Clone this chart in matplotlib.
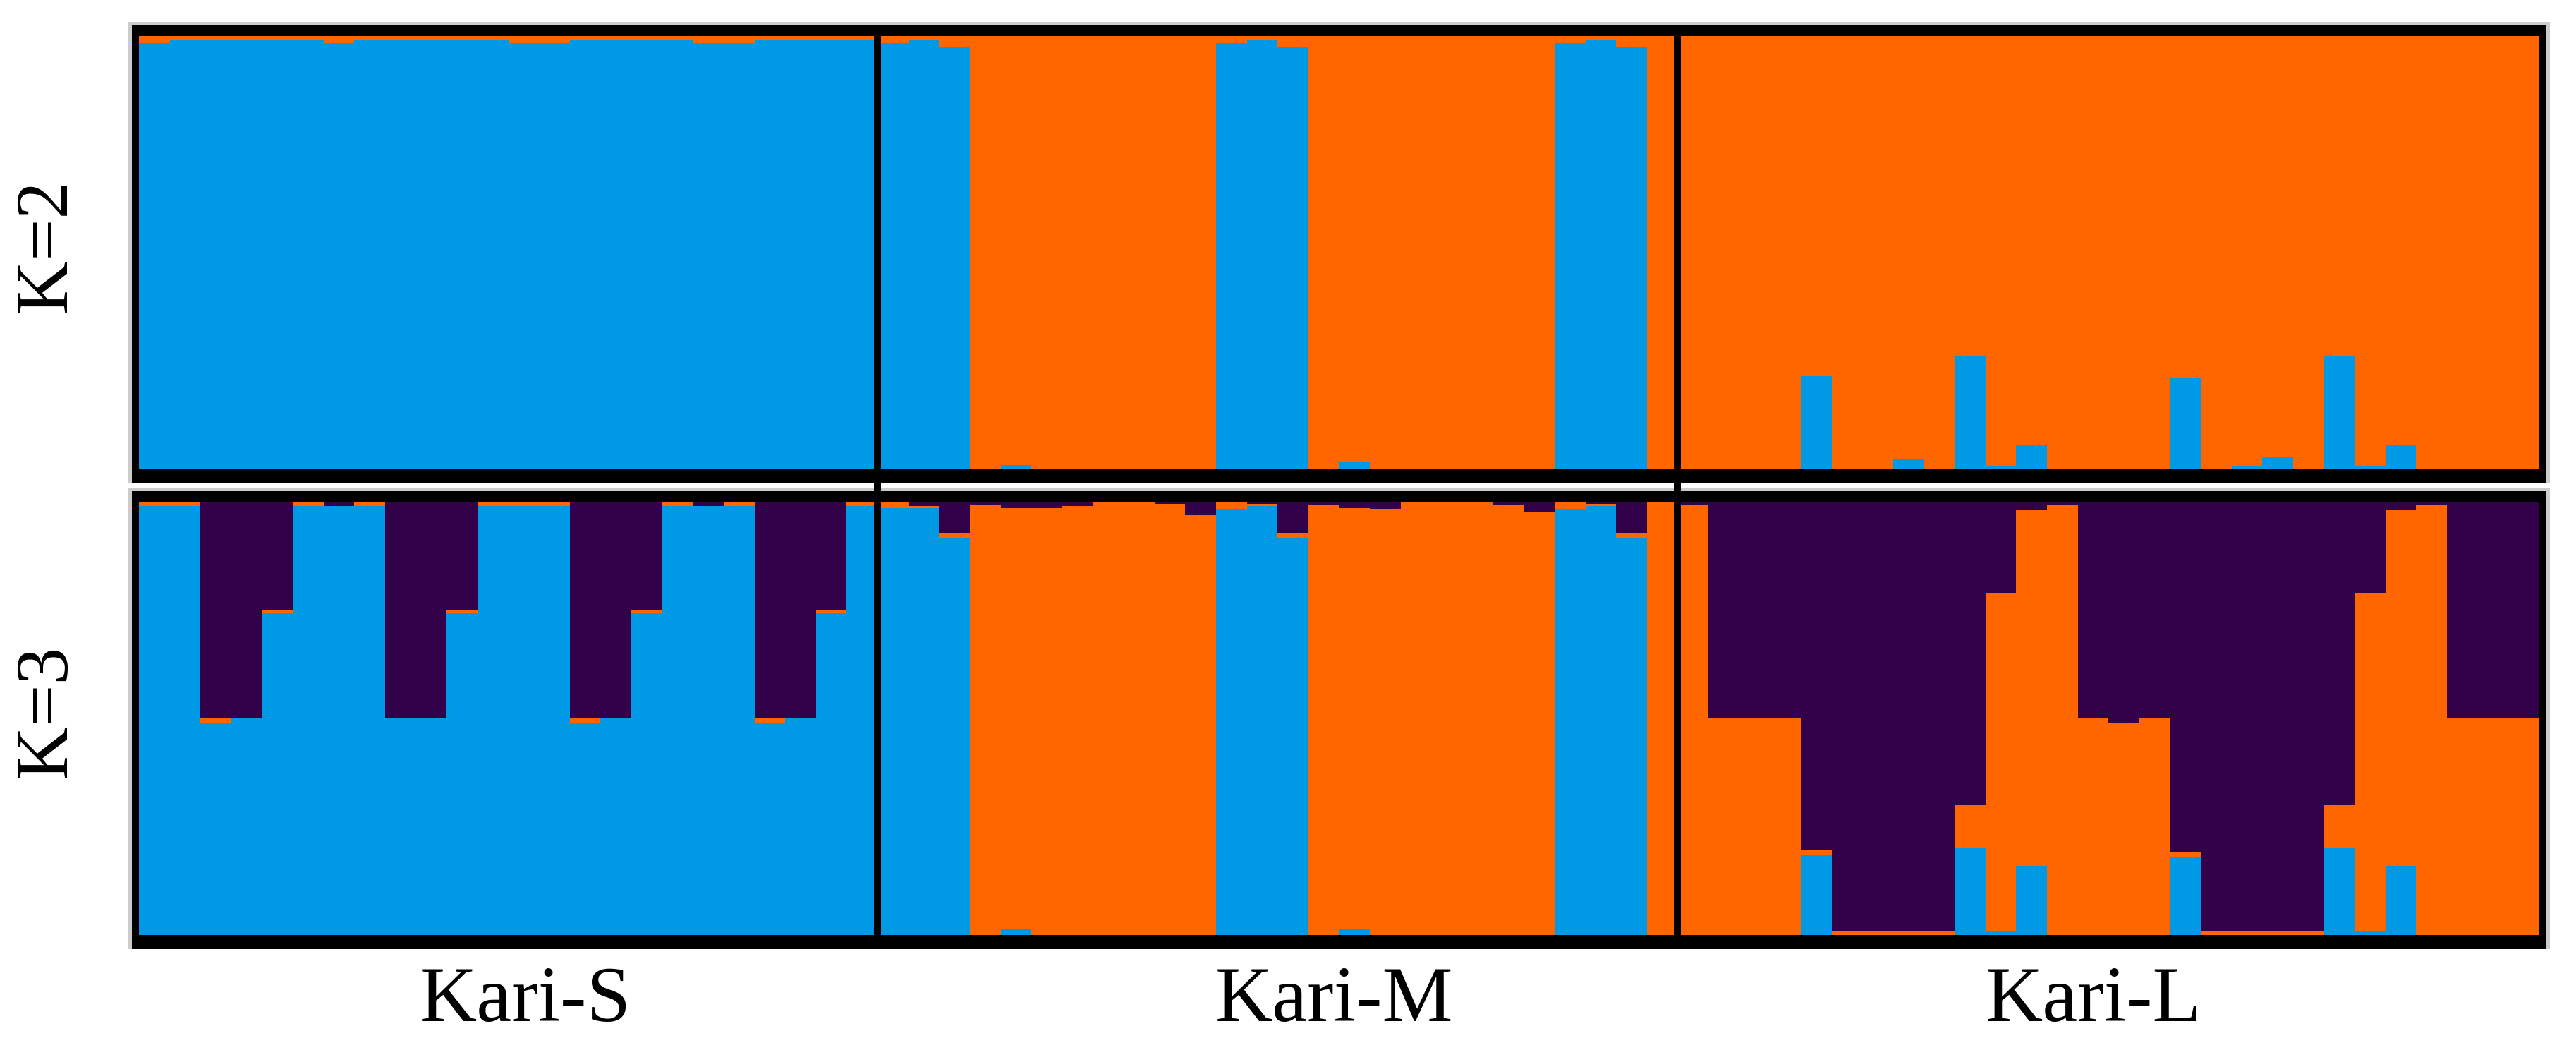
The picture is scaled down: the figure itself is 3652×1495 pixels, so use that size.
import matplotlib
matplotlib.use('Agg')
import matplotlib.pyplot as plt
from matplotlib.patches import Rectangle
from matplotlib.lines import Line2D
from matplotlib.transforms import blended_transform_factory
import numpy as np

# population labels and sizes
pops = ['Kari-S', 'Kari-M', 'Kari-L']
pop_sizes = [24, 26, 28]

# K=2 ancestry per individual (blue cluster, orange cluster)
k2_blue_S = [0.983, 0.99, 0.99, 0.99, 0.99, 0.99, 0.983, 0.99, 0.99, 0.99, 0.99, 0.99,
             0.983, 0.983, 0.99, 0.99, 0.99, 0.99, 0.983, 0.983, 0.99, 0.99, 0.99, 0.99]
k2_blue_M = [0.983, 0.99, 0.976, 0.0, 0.01, 0.0, 0.0, 0.0, 0.0, 0.0, 0.0, 0.983, 0.99,
             0.976, 0.0, 0.016, 0.0, 0.0, 0.0, 0.0, 0.0, 0.0, 0.983, 0.99, 0.976, 0.0]
k2_blue_L = [0.0, 0.0, 0.0, 0.0, 0.215, 0.0, 0.0, 0.023, 0.0, 0.263, 0.007, 0.055, 0.0, 0.0,
             0.0, 0.0, 0.21, 0.0, 0.007, 0.03, 0.0, 0.263, 0.007, 0.056, 0.0, 0.0, 0.0, 0.0]
k2_orange_S = [0.017, 0.01, 0.01, 0.01, 0.01, 0.01, 0.017, 0.01, 0.01, 0.01, 0.01, 0.01,
               0.017, 0.017, 0.01, 0.01, 0.01, 0.01, 0.017, 0.017, 0.01, 0.01, 0.01, 0.01]
k2_orange_M = [0.017, 0.01, 0.024, 1.0, 0.99, 1.0, 1.0, 1.0, 1.0, 1.0, 1.0, 0.017, 0.01,
               0.024, 1.0, 0.984, 1.0, 1.0, 1.0, 1.0, 1.0, 1.0, 0.017, 0.01, 0.024, 1.0]
k2_orange_L = [1.0, 1.0, 1.0, 1.0, 0.785, 1.0, 1.0, 0.977, 1.0, 0.737, 0.993, 0.945, 1.0, 1.0,
               1.0, 1.0, 0.79, 1.0, 0.993, 0.97, 1.0, 0.737, 0.993, 0.944, 1.0, 1.0, 1.0, 1.0]

# K=3 ancestry per individual (blue, orange, purple)
k3_blue_S = [0.99, 0.99, 0.49, 0.5, 0.745, 0.99, 0.99, 0.99, 0.5, 0.5, 0.745, 0.99,
             0.99, 0.99, 0.49, 0.5, 0.745, 0.99, 0.99, 0.99, 0.49, 0.5, 0.745, 0.99]
k3_orange_S = [0.01, 0.01, 0.01, 0.0, 0.005, 0.01, 0.0, 0.01, 0.0, 0.0, 0.005, 0.01,
               0.01, 0.01, 0.01, 0.0, 0.005, 0.01, 0.0, 0.01, 0.01, 0.0, 0.005, 0.01]
k3_purple_S = [0.0, 0.0, 0.5, 0.5, 0.25, 0.0, 0.01, 0.0, 0.5, 0.5, 0.25, 0.0,
               0.0, 0.0, 0.5, 0.5, 0.25, 0.0, 0.01, 0.0, 0.5, 0.5, 0.25, 0.0]

k3_blue_M = [0.985, 0.985, 0.917, 0.0, 0.015, 0.0, 0.0, 0.0, 0.0, 0.0, 0.0, 0.983, 0.99,
             0.917, 0.0, 0.015, 0.0, 0.0, 0.0, 0.0, 0.0, 0.0, 0.983, 0.99, 0.917, 0.0]
k3_orange_M = [0.015, 0.005, 0.01, 0.993, 0.97, 0.985, 0.99, 1.0, 1.0, 0.995, 0.969, 0.017, 0.005,
               0.01, 0.993, 0.97, 0.983, 1.0, 1.0, 1.0, 0.993, 0.976, 0.017, 0.005, 0.01, 1.0]
k3_purple_M = [0.0, 0.01, 0.073, 0.007, 0.015, 0.015, 0.01, 0.0, 0.0, 0.005, 0.031, 0.0, 0.005,
               0.073, 0.007, 0.015, 0.017, 0.0, 0.0, 0.0, 0.007, 0.024, 0.0, 0.005, 0.073, 0.0]

k3_blue_L = [0.0, 0.0, 0.0, 0.0, 0.185, 0.0, 0.0, 0.0, 0.0, 0.2, 0.01, 0.16, 0.0, 0.0,
             0.0, 0.0, 0.18, 0.0, 0.0, 0.0, 0.0, 0.2, 0.01, 0.16, 0.0, 0.0, 0.0, 0.0]
k3_orange_L = [0.993, 0.5, 0.5, 0.5, 0.01, 0.01, 0.01, 0.01, 0.01, 0.1, 0.78, 0.82, 0.993, 0.5,
               0.49, 0.5, 0.01, 0.01, 0.01, 0.01, 0.01, 0.1, 0.78, 0.82, 0.993, 0.5, 0.5, 0.5]
k3_purple_L = [0.007, 0.5, 0.5, 0.5, 0.805, 0.99, 0.99, 0.99, 0.99, 0.7, 0.21, 0.02, 0.007, 0.5,
               0.51, 0.5, 0.81, 0.99, 0.99, 0.99, 0.99, 0.7, 0.21, 0.02, 0.007, 0.5, 0.5, 0.5]

BLUE = '#0099E5'
ORANGE = '#FF6600'
PURPLE = '#33004A'

W, H = 3652, 1495
fig = plt.figure(figsize=(W / 100, H / 100), dpi=100)


def px_box(x0, y0, x1, y1):
    # pixel box (top-left origin) -> figure fraction [left, bottom, width, height]
    return [x0 / W, 1 - y1 / H, (x1 - x0) / W, (y1 - y0) / H]


def frame(x0, y0, x1, y1):
    l, b, w, h = px_box(x0 - 5, y0 - 5, x1 + 5, y1)
    fig.add_artist(Rectangle((l, b), w, h, transform=fig.transFigure,
                             facecolor='#cccccc', edgecolor='none', zorder=-2))
    l, b, w, h = px_box(x0, y0, x1, y1)
    fig.add_artist(Rectangle((l, b), w, h, transform=fig.transFigure,
                             facecolor='black', edgecolor='none', zorder=-1))


frame(187, 36, 3610, 685)
frame(187, 696, 3610, 1345)

ax_top = fig.add_axes(px_box(197, 51, 3600, 665))
ax_bot = fig.add_axes(px_box(197, 711, 3600, 1325))

n = sum(pop_sizes)
x = np.arange(n)

blue2 = np.array(k2_blue_S + k2_blue_M + k2_blue_L)
orange2 = np.array(k2_orange_S + k2_orange_M + k2_orange_L)
ax_top.bar(x, blue2, width=1.0, align='edge', color=BLUE, linewidth=0)
ax_top.bar(x, orange2, bottom=blue2, width=1.0, align='edge', color=ORANGE, linewidth=0)

blue3 = np.array(k3_blue_S + k3_blue_M + k3_blue_L)
orange3 = np.array(k3_orange_S + k3_orange_M + k3_orange_L)
purple3 = np.array(k3_purple_S + k3_purple_M + k3_purple_L)
ax_bot.bar(x, blue3, width=1.0, align='edge', color=BLUE, linewidth=0)
ax_bot.bar(x, orange3, bottom=blue3, width=1.0, align='edge', color=ORANGE, linewidth=0)
ax_bot.bar(x, purple3, bottom=blue3 + orange3, width=1.0, align='edge', color=PURPLE, linewidth=0)

for ax in (ax_top, ax_bot):
    ax.set_xlim(0, n)
    ax.set_ylim(0, 1)
    ax.set_facecolor(ORANGE)
    ax.axis('off')

# population dividers run through both panels
trans = blended_transform_factory(ax_top.transData, fig.transFigure)
y_lo = 1 - 1330 / H
y_hi = 1 - 51 / H
for b in np.cumsum(pop_sizes)[:-1]:
    fig.add_artist(Line2D([b, b], [y_lo, y_hi], transform=trans, color='black',
                          linewidth=7.2, solid_capstyle='butt'))

font = ['Liberation Serif', 'DejaVu Serif']
label_x = [745, 1891, 2968]
for name, lx in zip(pops, label_x):
    fig.text(lx / W, 1 - 1447 / H, name, ha='center', va='baseline',
             fontsize=81, family=font)

fig.text(68 / W, 1 - 348 / H, 'K=2', rotation=90, ha='center', va='center',
         fontsize=76, family=font)
fig.text(68 / W, 1 - 1008 / H, 'K=3', rotation=90, ha='center', va='center',
         fontsize=76, family=font)

fig.savefig('out.png', dpi=100, facecolor='white')
